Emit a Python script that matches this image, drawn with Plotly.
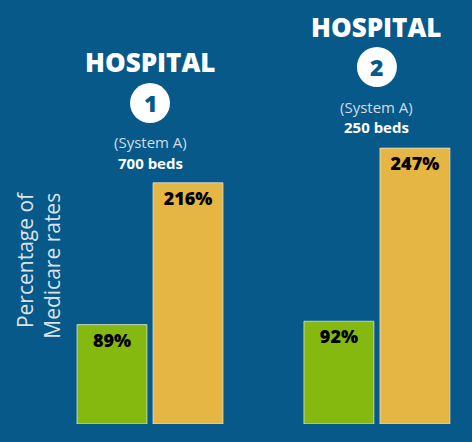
import plotly.graph_objects as go

# data
hospitals = ["Hospital 1", "Hospital 2"]
green_pct = [89, 92]
yellow_pct = [216, 247]
green_labels = ["89%", "92%"]
yellow_labels = ["216%", "247%"]
systems = ["(System A)", "(System A)"]
beds = ["700 beds", "250 beds"]
numbers = ["1", "2"]

BG = "#065989"
GREEN = "#86b910"
YELLOW = "#e6b644"
FONT = "Open Sans"

fig = go.Figure()

bar_text = dict(family=FONT, size=18, color="black", weight=800)
outline = dict(color="rgba(225,230,225,0.75)", width=1)

fig.add_trace(go.Bar(
    x=hospitals, y=green_pct, text=green_labels, name="Green",
    marker=dict(color=GREEN, line=outline),
    textposition="inside", insidetextanchor="end",
    textfont=bar_text, textangle=0,
))
fig.add_trace(go.Bar(
    x=hospitals, y=yellow_pct, text=yellow_labels, name="Yellow",
    marker=dict(color=YELLOW, line=outline),
    textposition="inside", insidetextanchor="end",
    textfont=bar_text, textangle=0,
))

# header positions (paper y) for each hospital
head_y = [0.854, 0.937]
circle_y = [0.757, 0.842]
system_y = [0.665, 0.748]
beds_y = [0.616, 0.700]

annotations = []
shapes = []
for i, h in enumerate(hospitals):
    annotations.append(dict(
        x=h, xref="x", y=head_y[i], yref="paper", text="HOSPITAL",
        xanchor="center", yanchor="middle", showarrow=False,
        font=dict(family=FONT, size=26, color="white", weight=800),
    ))
    shapes.append(dict(
        type="circle", xref="x", yref="paper",
        xsizemode="pixel", ysizemode="pixel",
        xanchor=h, yanchor=circle_y[i],
        x0=-20, x1=20, y0=-20, y1=20,
        fillcolor="white", line=dict(width=0), layer="below",
    ))
    annotations.append(dict(
        x=h, xref="x", y=circle_y[i], yref="paper", text=numbers[i],
        xanchor="center", yanchor="middle", showarrow=False,
        font=dict(family=FONT, size=23, color=BG, weight=800),
    ))
    annotations.append(dict(
        x=h, xref="x", y=system_y[i], yref="paper", text=systems[i],
        xanchor="center", yanchor="middle", showarrow=False,
        font=dict(family=FONT, size=15, color="#d3dce6"),
    ))
    annotations.append(dict(
        x=h, xref="x", y=beds_y[i], yref="paper", text=beds[i],
        xanchor="center", yanchor="middle", showarrow=False,
        font=dict(family=FONT, size=15, color="white", weight=700),
    ))

annotations.append(dict(
    x=0.08, xref="paper", y=0.375, yref="paper",
    text="Percentage of<br>Medicare rates", textangle=-90, align="right",
    xanchor="center", yanchor="middle", showarrow=False,
    font=dict(family=FONT, size=21, color="#dbe3ea"),
))

fig.update_layout(
    width=472, height=442,
    margin=dict(l=0, r=0, t=0, b=18),
    paper_bgcolor=BG, plot_bgcolor=BG,
    barmode="group", bargap=0.33, bargroupgap=0.08,
    showlegend=False,
    annotations=annotations, shapes=shapes,
)
fig.update_xaxes(visible=False, range=[-0.661, 1.419])
fig.update_yaxes(visible=False, range=[0, 379.6])

fig.write_html("out.html", config={"displayModeBar": False},
               post_script="document.body.style.margin='0';")
